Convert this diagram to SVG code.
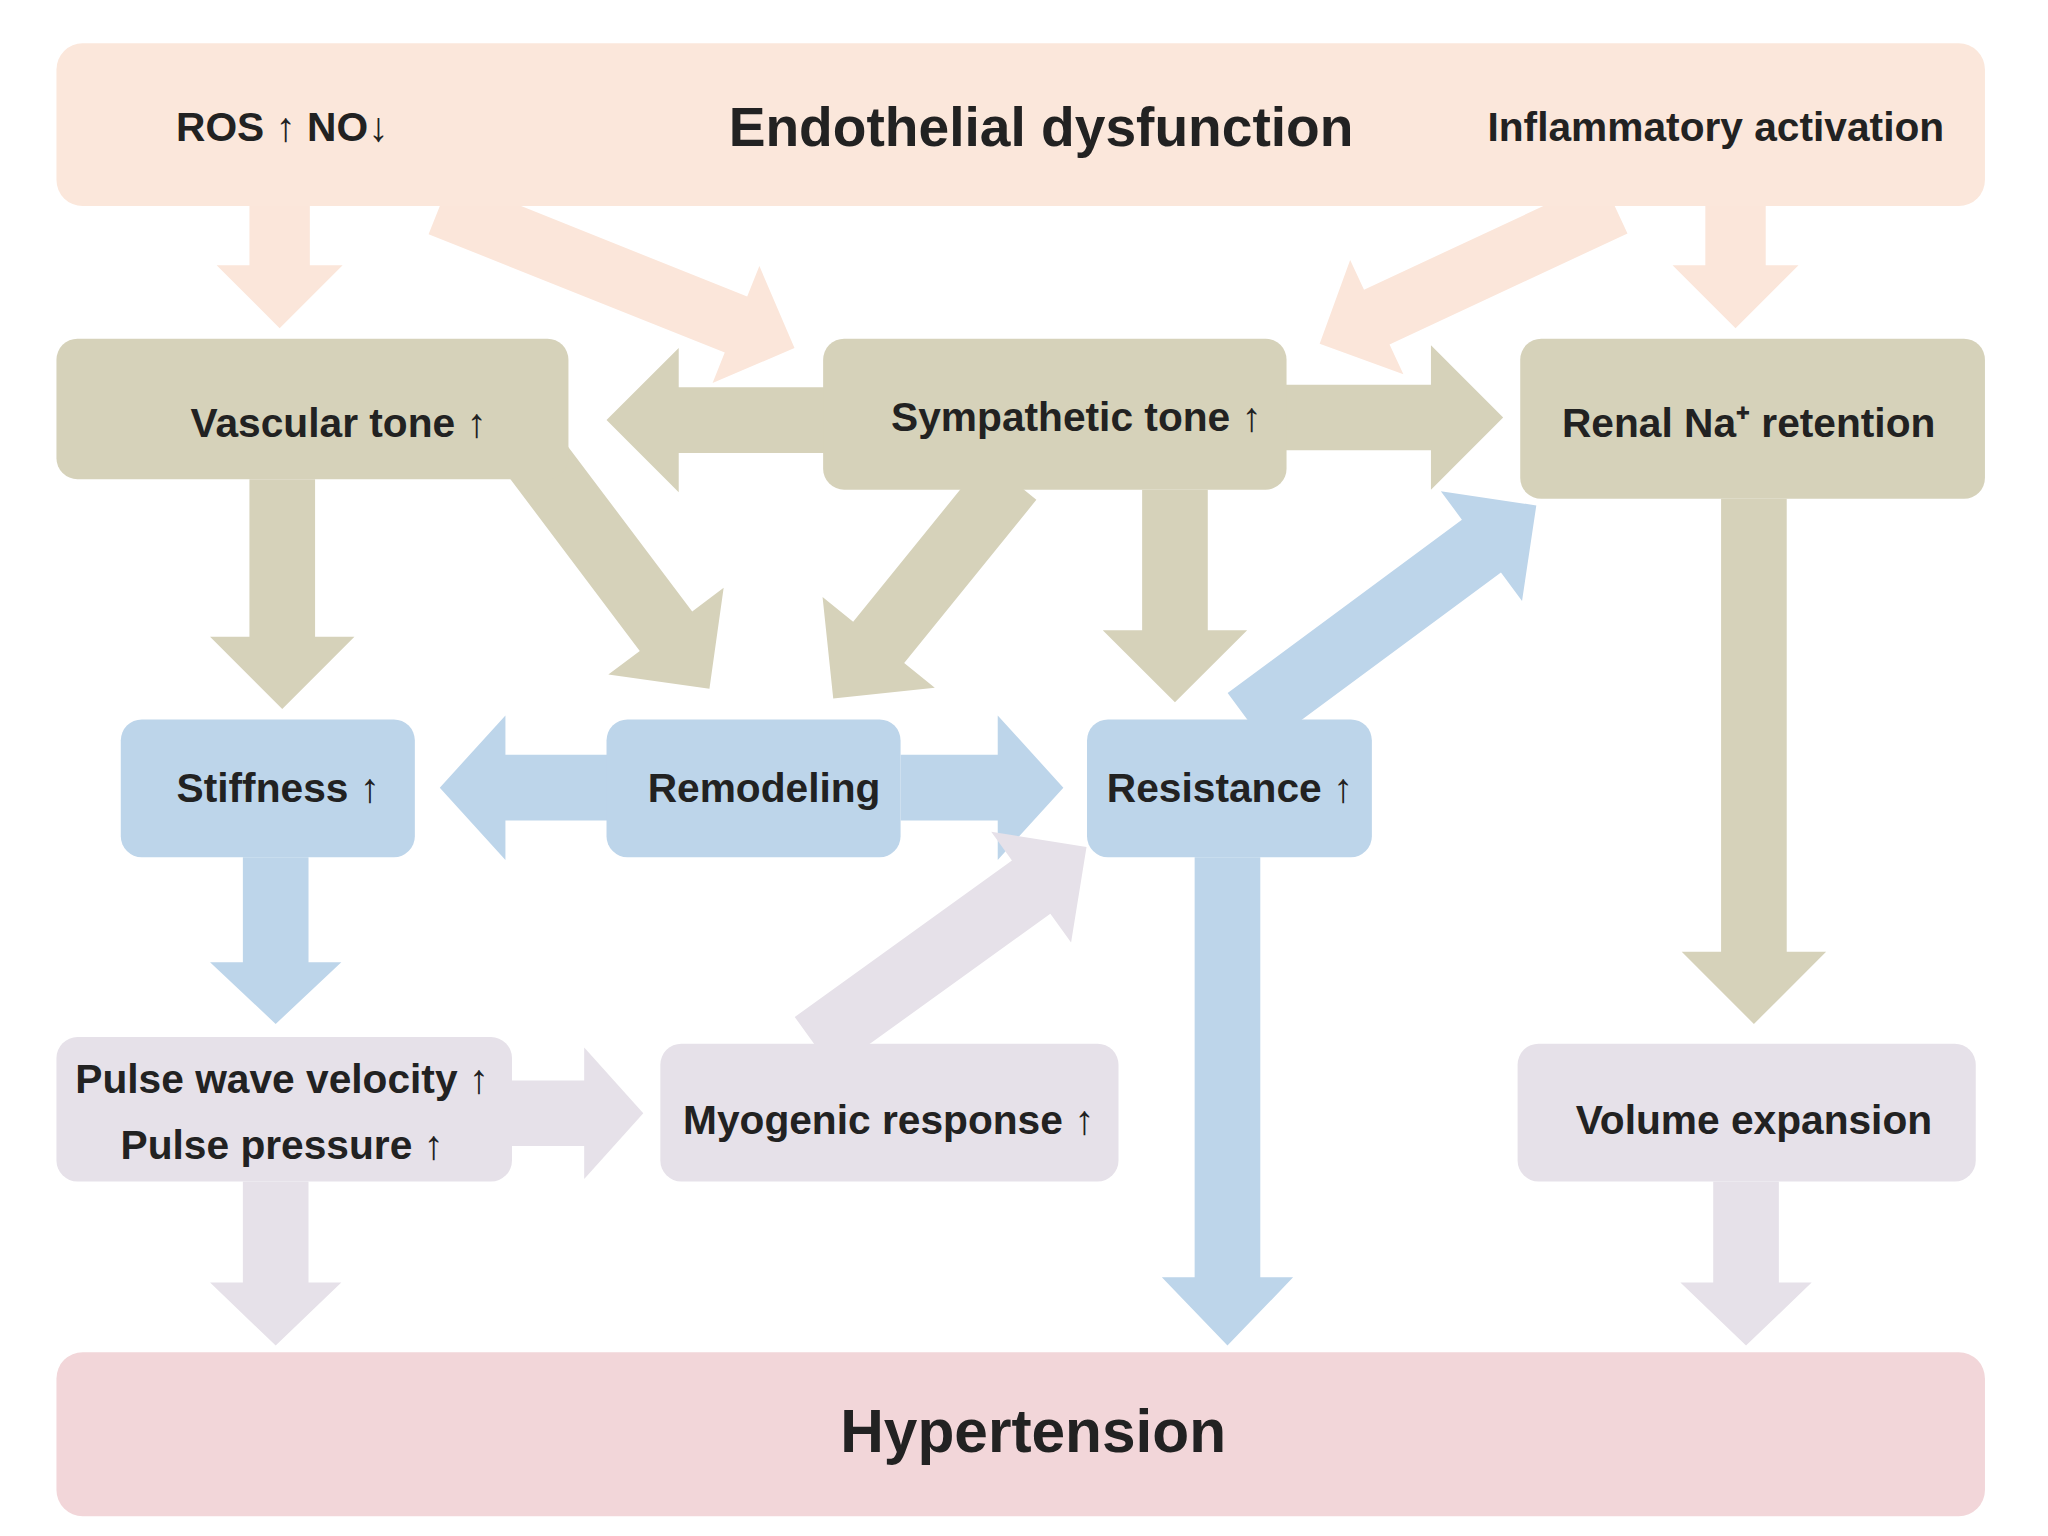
<svg xmlns="http://www.w3.org/2000/svg" width="2048" height="1536" viewBox="0 0 2048 1536">
<style>
text{font-family:"Liberation Sans",Arial,sans-serif;font-weight:bold;fill:#222;text-anchor:middle;dominant-baseline:central}
.t{font-size:31px}
.peach{fill:#fbe6da}.khaki{fill:#d6d2ba}.blue{fill:#bdd5ea}.lav{fill:#e6e1e9}
</style>
<rect width="2048" height="1536" fill="#fff"/>
<g transform="scale(1.3128)">
<g id="connectors">
<path class="peach" d="M0,-23 H45 V-48 L93,0 L45,48 V23 H0 Z" transform="translate(213,157) rotate(90)"/>
<path class="peach" d="M0,-23 H243 V-48 L291,0 L243,48 V23 H0 Z" transform="translate(335,157) rotate(21.8)"/>
<path class="peach" d="M0,-23 H200 V-48 L248,0 L200,48 V23 H0 Z" transform="translate(1230,157) rotate(155)"/>
<path class="peach" d="M0,-23 H45 V-48 L93,0 L45,48 V23 H0 Z" transform="translate(1322,157) rotate(90)"/>
<path class="khaki" d="M0,-25 H123 V-55 L178,0 L123,55 V25 H0 Z" transform="translate(640,320) rotate(180)"/>
<path class="khaki" d="M0,-25 H115 V-55 L170,0 L115,55 V25 H0 Z" transform="translate(975,318)"/>
<path class="khaki" d="M0,-25 H120 V-55 L175,0 L120,55 V25 H0 Z" transform="translate(215,365) rotate(90)"/>
<path class="khaki" d="M0,-25 H170 V-55 L225,0 L170,55 V25 H0 Z" transform="translate(405,345) rotate(53)"/>
<path class="khaki" d="M0,-25 H160 V-55 L215,0 L160,55 V25 H0 Z" transform="translate(770,365) rotate(129)"/>
<path class="khaki" d="M0,-25 H107 V-55 L162,0 L107,55 V25 H0 Z" transform="translate(895,373) rotate(90)"/>
<path class="khaki" d="M0,-25 H345 V-55 L400,0 L345,55 V25 H0 Z" transform="translate(1336,380) rotate(90)"/>
<path class="blue" d="M0,-25 H85 V-55 L135,0 L85,55 V25 H0 Z" transform="translate(470,600) rotate(180)"/>
<path class="blue" d="M0,-25 H74 V-55 L124,0 L74,55 V25 H0 Z" transform="translate(686,600)"/>
<path class="blue" d="M0,-25 H80 V-50 L127,0 L80,50 V25 H0 Z" transform="translate(210,653) rotate(90)"/>
<path class="blue" d="M0,-25 H320 V-50 L372,0 L320,50 V25 H0 Z" transform="translate(935,653) rotate(90)"/>
<path class="blue" d="M0,-25 H222 V-52 L274,0 L222,52 V25 H0 Z" transform="translate(950,548) rotate(-36.5)"/>
<path class="lav" d="M0,-25 H55 V-50 L100,0 L55,50 V25 H0 Z" transform="translate(390,848)"/>
<path class="lav" d="M0,-25 H204 V-52 L256,0 L204,52 V25 H0 Z" transform="translate(620,795) rotate(-35.8)"/>
<path class="lav" d="M0,-25 H77 V-50 L125,0 L77,50 V25 H0 Z" transform="translate(210,900) rotate(90)"/>
<path class="lav" d="M0,-25 H77 V-50 L125,0 L77,50 V25 H0 Z" transform="translate(1330,900) rotate(90)"/>
</g>
<g id="endothelial"><rect x="43" y="33" width="1469" height="124" rx="20" fill="#fbe7db"/>
<text x="215" y="97" class="t">ROS ↑    NO↓</text>
<text x="793" y="97" style="font-size:42px">Endothelial dysfunction</text>
<text x="1307" y="97" class="t">Inflammatory activation</text></g>
<g id="vascular"><rect x="43" y="258" width="390" height="107" rx="16" fill="#d6d2ba"/><text x="258" y="322" class="t">Vascular tone ↑</text></g>
<g id="sympathetic"><rect x="627" y="258" width="353" height="115" rx="16" fill="#d6d2ba"/><text x="820" y="318" class="t">Sympathetic tone ↑</text></g>
<g id="renal"><rect x="1158" y="258" width="354" height="122" rx="16" fill="#d6d2ba"/><text x="1332" y="322" class="t">Renal Na⁺ retention</text></g>
<g id="stiffness"><rect x="92" y="548" width="224" height="105" rx="16" fill="#bdd5ea"/><text x="212" y="600" class="t">Stiffness ↑</text></g>
<g id="remodeling"><rect x="462" y="548" width="224" height="105" rx="16" fill="#bdd5ea"/><text x="582" y="600" class="t">Remodeling</text></g>
<g id="resistance"><rect x="828" y="548" width="217" height="105" rx="16" fill="#bdd5ea"/><text x="937" y="600" class="t">Resistance ↑</text></g>
<g id="pulse"><rect x="43" y="790" width="347" height="110" rx="16" fill="#e6e1e9"/><text x="215" y="822" class="t">Pulse wave velocity  ↑</text><text x="215" y="872" class="t">Pulse pressure  ↑</text></g>
<g id="myogenic"><rect x="503" y="795" width="349" height="105" rx="16" fill="#e6e1e9"/><text x="677" y="853" class="t">Myogenic response ↑</text></g>
<g id="volume"><rect x="1156" y="795" width="349" height="105" rx="16" fill="#e6e1e9"/><text x="1336" y="853" class="t">Volume expansion</text></g>
<g id="hypertension"><rect x="43" y="1030" width="1469" height="125" rx="20" fill="#f2d6d9"/><text x="787" y="1090" style="font-size:46px">Hypertension</text></g>
</g>
</svg>
